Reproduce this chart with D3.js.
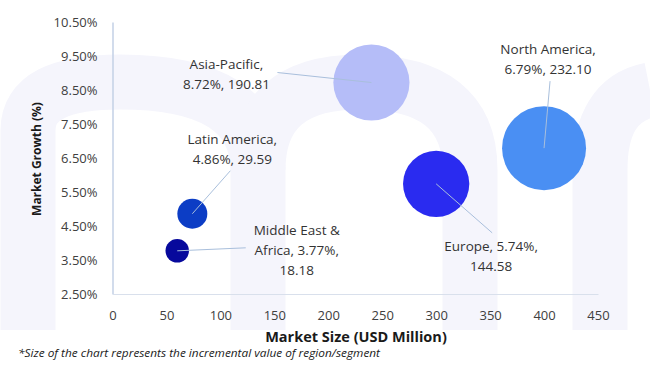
<!DOCTYPE html>
<html>
<head>
<meta charset="utf-8">
<script src="https://cdn.jsdelivr.net/npm/d3@7"></script>
<style>
  html, body { margin: 0; padding: 0; background: #fff; }
  svg { display: block; font-family: "Open Sans", sans-serif; }
</style>
</head>
<body>
<div id="chart"></div>
<script>
// data
const regions = ["North America", "Asia-Pacific", "Europe", "Latin America", "Middle East & Africa"];
const marketSize = [400, 240, 300, 74, 60];              // USD Million (x)
const marketGrowth = [6.79, 8.72, 5.74, 4.86, 3.77];     // % (y)
const incrementalValue = [232.10, 190.81, 144.58, 29.59, 18.18]; // bubble size
const labelLines = [
  ["North America,", "6.79%, 232.10"],
  ["Asia-Pacific,", "8.72%, 190.81"],
  ["Europe, 5.74%,", "144.58"],
  ["Latin America,", "4.86%, 29.59"],
  ["Middle East &", "Africa, 3.77%,", "18.18"]
];
const xTicks = [0, 50, 100, 150, 200, 250, 300, 350, 400, 450];
const yTicks = [2.5, 3.5, 4.5, 5.5, 6.5, 7.5, 8.5, 9.5, 10.5];

// layout / styling
const width = 650, height = 370;
const colors = ["#4a8ff3", "#b5bdf8", "#2a2bf0", "#0c3dc5", "#07099c"];
// label placement relative to bubble centre: text x, first line y, leader end
const labelPos = [
  { dx: 4, dy: -94, lx: 6, ly: -67 },
  { dx: -145, dy: -14, lx: -94, ly: -10 },
  { dx: 55, dy: 67, lx: 56, ly: 49 },
  { dx: 40, dy: -70, lx: 38, ly: -43 },
  { dx: 119.5, dy: -16, lx: 68.5, ly: -3 }
];

const svg = d3.select("#chart")
  .append("svg")
    .attr("width", width)
    .attr("height", height)
    .attr("viewBox", `0 0 ${width} ${height}`);

// faint watermark in the background
const wm = svg.append("g")
    .attr("fill", "none")
    .attr("stroke", "#f5f5fc")
    .attr("stroke-width", 55);
wm.append("path")
    .attr("d", "M 28 330 L 28 130 Q 28 82 120 82 Q 258 82 258 170 L 258 330");
wm.append("path")
    .attr("d", "M 258 170 Q 258 82 360 82 Q 470 82 470 170 L 470 330");
wm.append("path")
    .attr("d", "M 600 330 L 600 170 Q 600 100 650 90");

const x = d3.scaleLinear()
  .domain([0, 450])
  .range([112.5, 598]);

const y = d3.scaleLinear()
  .domain([2.5, 10.5])
  .range([294, 22]);

const r = d3.scaleSqrt()
  .domain([0, d3.max(incrementalValue)])
  .range([0, 42]);

// axes
const yAxis = svg.append("g")
    .attr("transform", `translate(${x(0)}, 0)`)
    .call(d3.axisLeft(y)
      .tickValues(yTicks)
      .tickSize(0)
      .tickPadding(15)
      .tickFormat(d => d3.format(".2f")(d) + "%"));
yAxis.select(".domain")
    .attr("stroke", "#c3d1e6")
    .attr("stroke-width", 1.5);

const xAxis = svg.append("g")
    .attr("transform", `translate(0, ${y(2.5)})`)
    .call(d3.axisBottom(x)
      .tickValues(xTicks)
      .tickSize(0)
      .tickPadding(17));
xAxis.select(".domain")
    .attr("stroke", "#d9e0ec")
    .attr("stroke-width", 1);

svg.selectAll(".tick text")
    .style("font-family", "'Open Sans', sans-serif")
    .style("font-size", "13px")
    .attr("fill", "#404040");

// axis titles
svg.append("text")
    .attr("transform", `translate(41, 159) rotate(-90)`)
    .attr("text-anchor", "middle")
    .style("font-size", "12px")
    .style("font-weight", 700)
    .attr("fill", "#1a1a1a")
    .text("Market Growth (%)");

svg.append("text")
    .attr("x", 356)
    .attr("y", 342)
    .attr("text-anchor", "middle")
    .style("font-size", "14.5px")
    .style("font-weight", 700)
    .attr("fill", "#1a1a1a")
    .text("Market Size (USD Million)");

svg.append("text")
    .attr("x", 18)
    .attr("y", 357)
    .attr("textLength", 362)
    .attr("lengthAdjust", "spacingAndGlyphs")
    .style("font-size", "10px")
    .style("font-style", "italic")
    .attr("fill", "#1a1a1a")
    .text("*Size of the chart represents the incremental value of region/segment");

// bubbles
const points = regions.map((name, i) => ({
  name: name,
  size: marketSize[i],
  growth: marketGrowth[i],
  value: incrementalValue[i],
  color: colors[i],
  lines: labelLines[i],
  pos: labelPos[i]
}));

svg.append("g")
  .selectAll("circle")
  .data(points)
  .join("circle")
    .attr("cx", d => x(d.size))
    .attr("cy", d => y(d.growth))
    .attr("r", d => r(d.value))
    .attr("fill", d => d.color);

// leader lines
svg.append("g")
  .selectAll("line")
  .data(points)
  .join("line")
    .attr("x1", d => x(d.size))
    .attr("y1", d => y(d.growth))
    .attr("x2", d => x(d.size) + d.pos.lx)
    .attr("y2", d => y(d.growth) + d.pos.ly)
    .attr("stroke", "#a9bfdc")
    .attr("stroke-width", 1);

// data labels
const labels = svg.append("g")
  .selectAll("text")
  .data(points)
  .join("text")
    .attr("text-anchor", "middle")
    .style("font-size", "13.5px")
    .attr("fill", "#333");
labels.each(function(d) {
  d3.select(this)
    .selectAll("tspan")
    .data(d.lines)
    .join("tspan")
      .attr("x", x(d.size) + d.pos.dx)
      .attr("y", (t, j) => y(d.growth) + d.pos.dy + j * 20)
      .text(t => t);
});
</script>
</body>
</html>
